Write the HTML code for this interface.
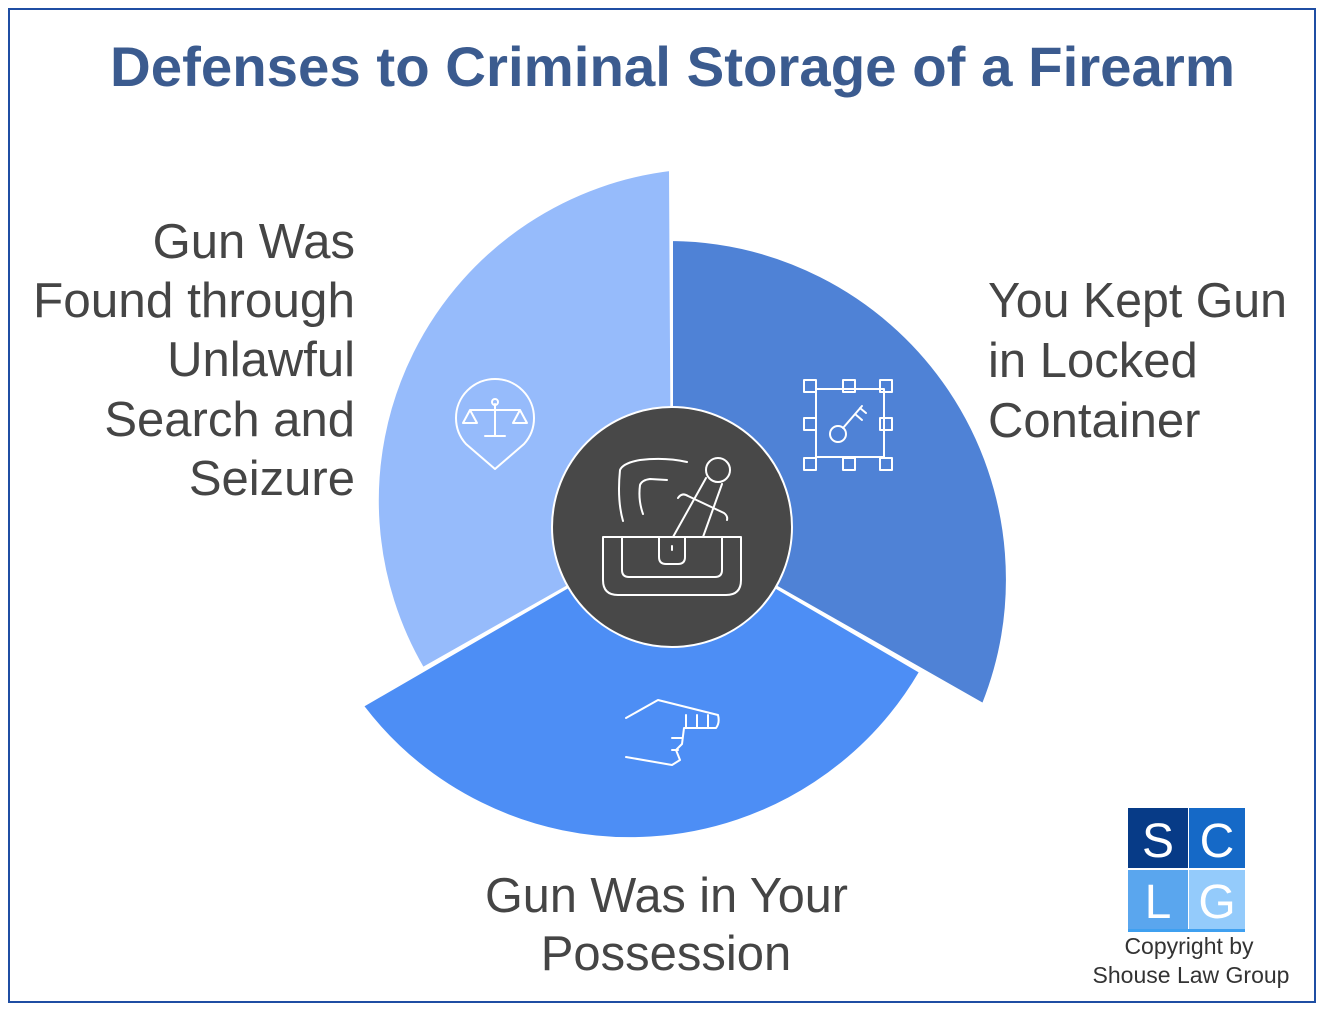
<!DOCTYPE html>
<html><head><meta charset="utf-8"><style>
html,body{margin:0;padding:0;background:#fff;}
body{width:1326px;height:1011px;position:relative;overflow:hidden;font-family:"Liberation Sans",sans-serif;}
</style></head><body>
<svg width="1326" height="1011" viewBox="0 0 1326 1011" xmlns="http://www.w3.org/2000/svg" style="position:absolute;left:0;top:0">
<rect x="9" y="9" width="1306" height="993" fill="none" stroke="#1f4ea3" stroke-width="2"/>
<text x="110" y="86" textLength="1125" lengthAdjust="spacingAndGlyphs" font-family="Liberation Sans, sans-serif" font-weight="bold" font-size="56" fill="#3b5b8f">Defenses to Criminal Storage of a Firearm</text>

<path d="M672,527 L670,170 A333,333 0 0 0 423,668 Z" fill="#96bbfb" stroke="#fff" stroke-width="2"/>
<path d="M672,527 L363,706 A336,336 0 0 0 920,672 Z" fill="#4d8ef5" stroke="#fff" stroke-width="2"/>
<path d="M672,527 L672,240 A339,339 0 0 1 983,704 Z" fill="#4f82d6" stroke="#fff" stroke-width="2"/>
<circle cx="672" cy="527" r="120" fill="#484848" stroke="#fff" stroke-width="2"/>

<g fill="none" stroke="#fff" stroke-width="2" stroke-linecap="round" stroke-linejoin="round">
<path d="M603,537 H741 V580 Q741,595 726,595 H618 Q603,595 603,580 Z"/>
<path d="M622,537 V570 Q622,577 629,577 H715 Q722,577 722,570 V537"/>
<path d="M659,537 V557 Q659,564 666,564 H678 Q685,564 685,557 V537"/>
<path d="M672,546 V550"/>
<path d="M673,537 L706,478 M703,537 L722,484"/>
<circle cx="718" cy="470" r="12"/>
<path d="M678,498 Q682,492 688,496 L724,513 Q728,516 727,520"/>
<path d="M623,521 Q617,500 620,470 Q623,463 640,460 Q665,457 687,462"/>
<path d="M643,514 Q638,500 640,485 Q642,480 650,479 L667,480"/>
<rect x="816" y="389" width="68" height="68"/>
<rect x="804" y="380" width="12" height="12"/><rect x="843" y="380" width="12" height="12"/><rect x="880" y="380" width="12" height="12"/>
<rect x="804" y="418" width="12" height="12"/><rect x="880" y="418" width="12" height="12"/>
<rect x="804" y="458" width="12" height="12"/><rect x="843" y="458" width="12" height="12"/><rect x="880" y="458" width="12" height="12"/>
<circle cx="838" cy="434" r="8"/>
<path d="M843,428 L862,406 M855,414 L862,420 M860,408 L866,413"/>
<path d="M495,469 L466,444 Q456,433 456,418 A39,39 0 0 1 534,418 Q534,433 524,444 Z"/>
<path d="M495,404 V436 M485,436 H505 M470,410 H520 M470,410 L463,423 H477 Z M520,410 L513,423 H527 Z"/>
<circle cx="495" cy="402" r="3"/>
<path d="M626,718 L658,700 L718,715 Q720,723 716,728 L684,728 L682,744 L676,750 L680,760 L672,765 L626,757"/>
<path d="M686,715 V728 M697,715 V728 M708,715 V728 M672,738 H682 M672,750 H678"/>
</g>

<g font-family="Liberation Sans, sans-serif" font-size="49" fill="#454545">
<text text-anchor="end" x="355" y="258">Gun Was</text>
<text text-anchor="end" x="355" y="317" textLength="322" lengthAdjust="spacingAndGlyphs">Found through</text>
<text text-anchor="end" x="355" y="376">Unlawful</text>
<text text-anchor="end" x="355" y="436">Search and</text>
<text text-anchor="end" x="355" y="495">Seizure</text>
<text x="988" y="317" textLength="299" lengthAdjust="spacingAndGlyphs">You Kept Gun</text>
<text x="988" y="377">in Locked</text>
<text x="988" y="437">Container</text>
<text x="485" y="912" textLength="363" lengthAdjust="spacingAndGlyphs">Gun Was in Your</text>
<text text-anchor="middle" x="666" y="970">Possession</text>
</g>

<rect x="1128" y="808" width="60" height="60" fill="#073b87"/>
<rect x="1189" y="808" width="56" height="60" fill="#1569c7"/>
<rect x="1128" y="870" width="60" height="60" fill="#5aa6ee"/>
<rect x="1189" y="870" width="56" height="60" fill="#94cbfb"/>
<rect x="1128" y="929" width="117" height="3" fill="#3fa0f0"/>
<g font-family="Liberation Sans, sans-serif" font-size="48" fill="#fff" text-anchor="middle">
<text x="1158" y="857">S</text><text x="1217" y="857">C</text>
<text x="1158" y="918">L</text><text x="1217" y="918">G</text>
</g>
<g font-family="Liberation Sans, sans-serif" font-size="23" fill="#333" text-anchor="middle">
<text x="1189" y="954">Copyright by</text>
<text x="1191" y="983">Shouse Law Group</text>
</g>
</svg>
</body></html>
